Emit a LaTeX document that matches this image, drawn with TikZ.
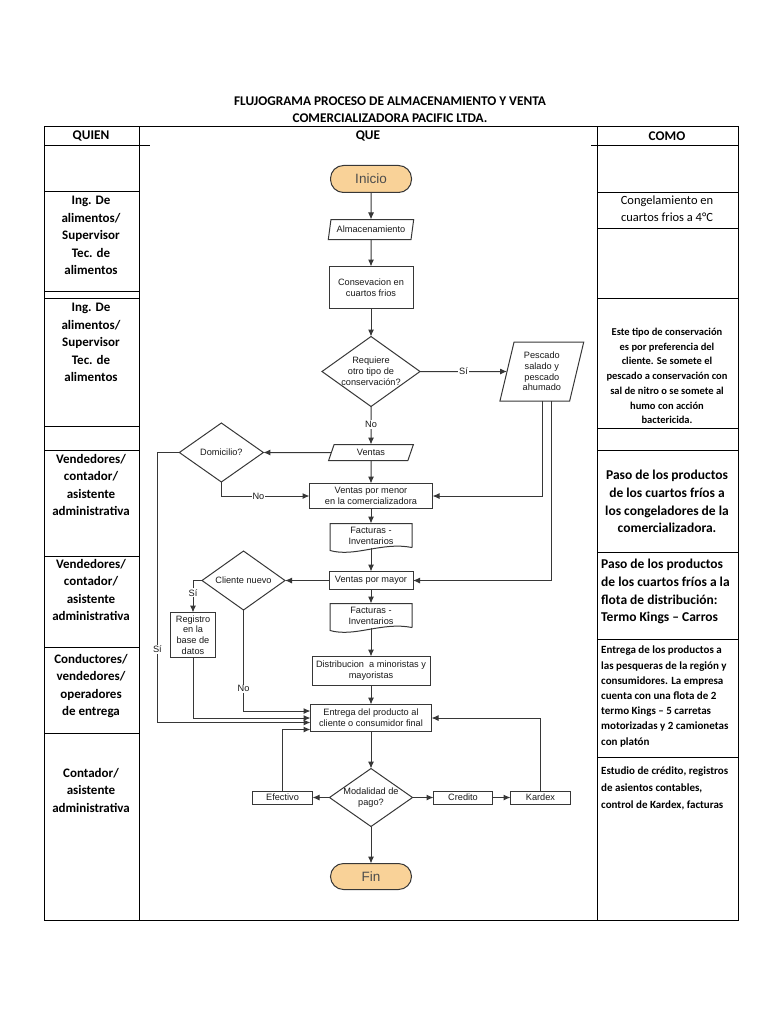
\documentclass[tikz,border=0pt]{standalone}
\usepackage{fontspec}
\setmainfont{Carlito}
\newfontfamily\flowfont{Liberation Sans}
\usepackage{xcolor}
\usetikzlibrary{positioning,arrows.meta,shapes.geometric,calc}
\definecolor{lineg}{RGB}{55,55,55}
\definecolor{termfill}{RGB}{249,210,152}

\begin{document}
\begin{tikzpicture}[
    x=1pt, y=-1pt,
    >={Latex[length=7pt,width=6pt]},
    flow/.style={font=\flowfont\fontsize{9.2}{10.8}\selectfont, text=black!90, align=center, outer sep=0pt},
    term/.style={draw=lineg, fill=termfill, rounded corners=13pt, line width=1pt, outer sep=0pt,
                 minimum width=81pt, minimum height=27pt, text=black!70,
                 font=\flowfont\fontsize{13.5}{15}\selectfont},
    proc/.style={flow, draw=lineg, line width=1pt, inner sep=1pt},
    io/.style={flow, draw=lineg, line width=1pt, trapezium, trapezium stretches=true,
               trapezium left angle=75, trapezium right angle=105, inner sep=1pt},
    dec/.style={flow, draw=lineg, line width=1pt, diamond, inner sep=-6pt},
    doc/.style={flow, inner sep=1pt, minimum width=82pt, minimum height=24pt},
    lbl/.style={flow, fill=white, inner sep=1pt},
    arrow/.style={->, draw=lineg, line width=1pt},
    tab/.style={draw=black, line width=1pt},
    head/.style={font=\bfseries\fontsize{13.3}{17}\selectfont},
    quien/.style={font=\bfseries\fontsize{13}{17.5}\selectfont, align=center, anchor=north, inner sep=0pt},
    como/.style={font=\bfseries\fontsize{10.5}{14.7}\selectfont, align=center, anchor=north, inner sep=0pt},
]
    \useasboundingbox (0,0) rectangle (768,1024);

    % Title
    \node[head] (tit1) at (390,101) {FLUJOGRAMA PROCESO DE ALMACENAMIENTO Y VENTA};
    \node[head] (tit2) at (390,118) {COMERCIALIZADORA PACIFIC LTDA.};

    % Table
    \draw[tab] (44,127) rectangle (738,920);
    \draw[tab] (139,127) -- (139,920);
    \draw[tab] (597,127) -- (597,920);
    \draw[tab] (44,146) -- (150,146);
    \draw[tab] (591,146) -- (738,146);
    \foreach \y in {192,291,298,426,450,556,647,733}
        \draw[tab] (44,\y) -- (139,\y);
    \foreach \y in {193,229,298,428,450,552,639,757}
        \draw[tab] (597,\y) -- (738,\y);
    \node[head] (hquien) at (91,136) {QUIEN};
    \node[head] (hque) at (368,136) {QUE};
    \node[head] (hcomo) at (667,136) {COMO};

    % QUIEN
    \node[quien] (q1) at (91,196) {Ing. De\\alimentos/\\Supervisor\\Tec. de\\alimentos};
    \node[quien] (q2) at (91,303) {Ing. De\\alimentos/\\Supervisor\\Tec. de\\alimentos};
    \node[quien] (q3) at (91,454) {Vendedores/\\contador/\\asistente\\administrativa};
    \node[quien] (q4) at (91,559) {Vendedores/\\contador/\\asistente\\administrativa};
    \node[quien] (q5) at (91,654) {Conductores/\\vendedores/\\operadores\\de entrega};
    \node[quien] (q6) at (91,768) {Contador/\\asistente\\administrativa};

    % COMO
    \node[como, font=\fontsize{12.5}{17}\selectfont] (c1) at (667,196) {Congelamiento en\\cuartos frios a 4°C};
    \node[como] (c2) at (667,328) {Este tipo de conservación\\es por preferencia del\\cliente. Se somete el\\pescado a conservación con\\sal de nitro o se somete al\\humo con acción\\bactericida.};
    \node[como, font=\bfseries\fontsize{13.5}{17.7}\selectfont] (c3) at (667,470) {Paso de los productos\\de los cuartos fríos a\\los congeladores de la\\comercializadora.};
    \node[como, anchor=north west, align=left, font=\bfseries\fontsize{13.5}{17.7}\selectfont] (c4) at (601,559) {Paso de los productos\\de los cuartos fríos a la\\flota de distribución:\\Termo Kings -- Carros};
    \node[como, anchor=north west, align=left, font=\bfseries\fontsize{11}{15.2}\selectfont] (c5) at (601,646) {Entrega de los productos a\\las pesqueras de la región y\\consumidores. La empresa\\cuenta con una flota de 2\\termo Kings -- 5 carretas\\motorizadas y 2 camionetas\\con platón};
    \node[como, anchor=north west, align=left, font=\bfseries\fontsize{11}{17}\selectfont] (c6) at (601,767) {Estudio de crédito, registros\\de asientos contables,\\control de Kardex, facturas};

    % Main flow
    \node[term] (inicio) at (371,179) {Inicio};
    \node[io, below=27pt of inicio, minimum width=86pt, minimum height=20pt] (alma) {Almacenamiento};
    \node[proc, below=27pt of alma, minimum width=84pt, minimum height=42pt] (cons) {Consevacion en\\cuartos frios};
    \node[dec, below=28pt of cons, minimum width=98pt, minimum height=70pt] (req) {Requiere\\otro tipo de\\conservación?};
    \node[io, below=38pt of req, minimum width=85pt, minimum height=16pt] (ventas) {Ventas};
    \node[proc, below=23pt of ventas, minimum width=123pt, minimum height=25pt] (menor) {Ventas por menor\\en la comercializadora};
    \node[doc, below=15pt of menor] (fact1) {Facturas -\\Inventarios};
    \node[proc, below=24pt of fact1, minimum width=84pt, minimum height=18pt] (mayor) {Ventas por mayor};
    \node[doc, below=14pt of mayor] (fact2) {Facturas -\\Inventarios};
    \node[proc, below=29pt of fact2, minimum width=118pt, minimum height=29pt] (dist) {Distribucion\ \ a minoristas y\\mayoristas};
    \node[proc, below=19pt of dist, minimum width=121pt, minimum height=27pt] (entrega) {Entrega del producto al\\cliente o consumidor final};
    \node[dec, below=37pt of entrega, minimum width=83pt, minimum height=58pt] (modal) {Modalidad de\\pago?};
    \node[term, below=37pt of modal, minimum height=26pt] (fin) {Fin};

    % Side nodes
    \node[io, right=87pt of req, minimum width=84pt, minimum height=59pt, trapezium left angle=76, trapezium right angle=104] (pesc) {Pescado\\salado y\\pescado\\ahumado};
    \node[dec, left=68pt of ventas, minimum width=84pt, minimum height=59pt] (dom) {Domicilio?};
    \node[dec, left=44pt of mayor, minimum width=83pt, minimum height=59pt] (cli) {Cliente nuevo};
    \node[proc, below=32pt of cli.west, xshift=-9pt, minimum width=45pt, minimum height=45pt] (reg) {Registro\\en la\\base de\\datos};
    \node[proc, left=17pt of modal, minimum width=60pt, minimum height=13pt, inner sep=0pt] (efec) {Efectivo};
    \node[proc, right=21pt of modal, minimum width=59pt, minimum height=13pt, inner sep=0pt] (cred) {Credito};
    \node[proc, right=18pt of cred, minimum width=60pt, minimum height=13pt, inner sep=0pt] (kard) {Kardex};

    % Document outlines
    \foreach \d in {fact1,fact2}
        \draw[lineg, line width=1pt] (\d.south east) -- (\d.north east) -- (\d.north west)
            -- ([yshift=-3pt]\d.south west)
            .. controls ([xshift=25pt,yshift=-10pt]\d.south west) and ([xshift=-30pt,yshift=6pt]\d.south east) .. (\d.south east);

    % Main arrows
    \draw[arrow] (inicio) -- (alma);
    \draw[arrow] (alma) -- (cons);
    \draw[arrow] (cons) -- (req);
    \draw[arrow] (req) -- node[lbl] {Sí} (pesc);
    \draw[arrow] (req) -- node[lbl, pos=0.47] {No} (ventas);
    \draw[arrow] (ventas) -- (menor);
    \draw[arrow] (menor) -- (fact1);
    \draw[arrow] (fact1) -- (mayor);
    \draw[arrow] (mayor) -- (fact2);
    \draw[arrow] (fact2) -- (dist);
    \draw[arrow] (dist) -- (entrega);
    \draw[arrow] (entrega) -- (modal);
    \draw[arrow] (modal) -- (fin);

    % Pescado back to ventas
    \draw[arrow] ([xshift=1pt]pesc.south) |- (menor.east);
    \draw[arrow] ([xshift=10pt]pesc.south) |- (mayor.east);

    % Domicilio
    \draw[arrow] (ventas) -- (dom);
    \draw[arrow] (dom.south) |- node[lbl, pos=0.71] {No} (menor.west);
    \draw[arrow] (dom.west) -- ++(-22,0) |- node[lbl, pos=0.365] {Sí} ([yshift=-4.5pt]entrega.west);

    % Cliente nuevo
    \draw[arrow] (mayor) -- (cli);
    \draw[arrow] (cli.west) -| node[lbl, pos=0.69] {Sí} (reg.north);
    \draw[arrow] (cli.south) |- node[lbl, pos=0.39] {No} ([yshift=7pt]entrega.west);
    \draw[arrow] (reg.south) |- (entrega.west);

    % Pago
    \draw[arrow] (modal) -- (efec);
    \draw[arrow] (modal) -- (cred);
    \draw[arrow] (cred) -- (kard);
    \draw[arrow] (efec.north) |- ([yshift=-11.5pt]entrega.west);
    \draw[arrow] (kard.north) |- (entrega.east);

\end{tikzpicture}
\end{document}
